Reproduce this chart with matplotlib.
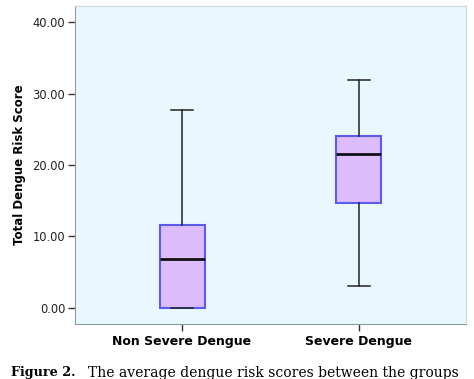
import matplotlib
matplotlib.use("Agg")
import matplotlib.pyplot as plt

categories = ["Non Severe Dengue", "Severe Dengue"]
whisker_low = [0.0, 3.1]
q1 = [0.0, 14.7]
median = [6.85, 21.5]
q3 = [11.6, 24.0]
whisker_high = [27.7, 31.9]
yticks = [0, 10, 20, 30, 40]
ytick_labels = ["0.00", "10.00", "20.00", "30.00", "40.00"]

stats = []
for i, c in enumerate(categories):
    stats.append(dict(label=c, whislo=whisker_low[i], q1=q1[i], med=median[i],
                      q3=q3[i], whishi=whisker_high[i], fliers=[]))

fig = plt.figure(figsize=(4.74, 3.79), dpi=100)
ax = fig.add_axes([75/474, 1-324/379, (466-75)/474, (324-6)/379])
ax.set_facecolor("#e9f8fd")

ax.bxp(stats, positions=[1, 2], widths=0.254, patch_artist=True, capwidths=0.12,
       boxprops=dict(facecolor="#dcbcfa", edgecolor="#5b5cec", linewidth=1.5),
       medianprops=dict(color="#111111", linewidth=2),
       whiskerprops=dict(color="#222222", linewidth=1.1),
       capprops=dict(color="#222222", linewidth=1.1))

ax.set_xlim(0.395, 2.605)
ax.set_ylim(-2.24, 42.24)
ax.set_yticks(yticks)
ax.set_yticklabels(ytick_labels, fontsize=8.3, color="#222222")
ax.set_xticks([1, 2])
ax.set_xticklabels(categories, fontsize=9, fontweight="bold")
ax.tick_params(axis="both", direction="out", length=5, width=1, color="#333333", pad=2)
ax.tick_params(axis="x", pad=3)
ax.set_ylabel("Total Dengue Risk Score", fontsize=8.5, fontweight="bold", labelpad=5)

for s in ["left", "bottom"]:
    ax.spines[s].set_color("#8a9aa0")
for s in ["top", "right"]:
    ax.spines[s].set_color("#cfd6d9")

fig.text(11/474, 1-366/379, "Figure 2.", fontsize=9.2, family="DejaVu Serif",
         fontweight="bold", va="top", ha="left")
fig.text(88/474, 1-366/379, "The average dengue risk scores between the groups",
         fontsize=10, family="DejaVu Serif", va="top", ha="left")

fig.savefig("out.png", dpi=100)
